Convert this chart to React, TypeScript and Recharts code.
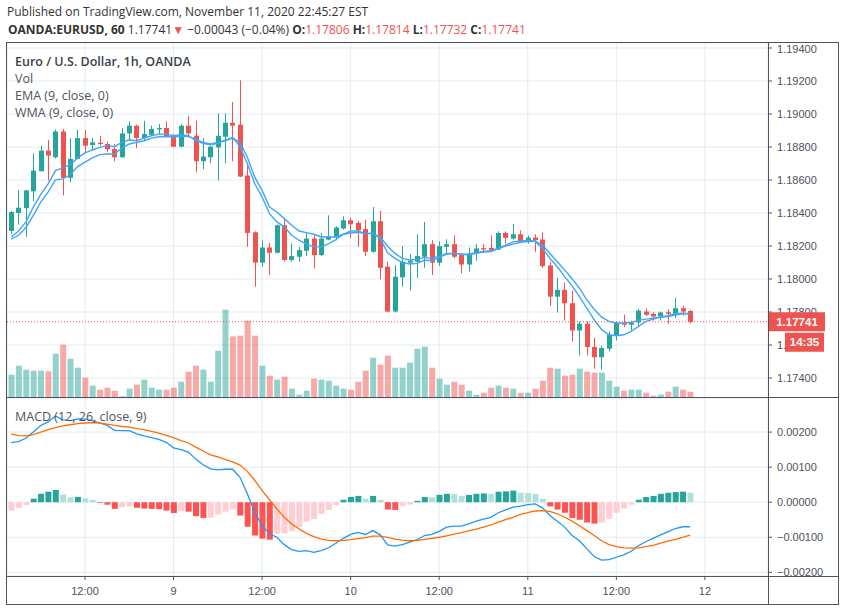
import React from 'react';
import {
  ComposedChart, Bar, Line, XAxis, YAxis, CartesianGrid, ReferenceLine, Cell,
} from 'recharts';

const GREEN = '#26a69a';
const RED = '#ef5350';
const GRID = '#e1ecf2';
const AXIS = '#50535e';
const TEXT = '#4c525e';
const AXIS_FONT = '"Liberation Sans", Arial, sans-serif';
const UI_FONT = '"Open Sans", "Noto Sans", sans-serif';

// EUR/USD 1h bars, Fri 6 Nov 02:00 .. Wed 11 Nov 22:00 EST (bar index 0..92)
const opens = [
  1.18291, 1.18400, 1.18430, 1.18531, 1.18653, 1.18778, 1.18738, 1.18894, 1.18613, 1.18728,
  1.18854, 1.18812, 1.18826, 1.18818, 1.18788, 1.18738, 1.18882, 1.18929, 1.18854, 1.18874,
  1.18907, 1.18915, 1.18868, 1.18802, 1.18929, 1.18868, 1.18714, 1.18738, 1.18798, 1.18862,
  1.18947, 1.18935, 1.18627, 1.18283, 1.18099, 1.18191, 1.18159, 1.18326, 1.18115, 1.18135,
  1.18171, 1.18245, 1.18145, 1.18239, 1.18255, 1.18306, 1.18356, 1.18340, 1.18302, 1.18165,
  1.18350, 1.18074, 1.17803, 1.18010, 1.18099, 1.18105, 1.18135, 1.18211, 1.18099, 1.18195,
  1.18211, 1.18145, 1.18088, 1.18155, 1.18187, 1.18189, 1.18179, 1.18279, 1.18245, 1.18271,
  1.18229, 1.18251, 1.18239, 1.18082, 1.17893, 1.17934, 1.17853, 1.17688, 1.17729, 1.17588,
  1.17526, 1.17578, 1.17656, 1.17733, 1.17723, 1.17737, 1.17803, 1.17789, 1.17773, 1.17799,
  1.17789, 1.17823, 1.17806,
];
const highs = [
  1.18412, 1.18537, 1.18540, 1.18762, 1.18808, 1.18842, 1.18907, 1.18909, 1.18854, 1.18903,
  1.18903, 1.18854, 1.18868, 1.18834, 1.18818, 1.18915, 1.18955, 1.18935, 1.18959, 1.18929,
  1.18939, 1.18955, 1.18878, 1.18939, 1.18989, 1.18959, 1.18854, 1.18805, 1.19003, 1.19003,
  1.19073, 1.19204, 1.18702, 1.18289, 1.18235, 1.18219, 1.18330, 1.18366, 1.18215, 1.18195,
  1.18285, 1.18265, 1.18279, 1.18386, 1.18320, 1.18380, 1.18372, 1.18352, 1.18360, 1.18436,
  1.18412, 1.18105, 1.18084, 1.18199, 1.18151, 1.18271, 1.18346, 1.18235, 1.18229, 1.18241,
  1.18265, 1.18155, 1.18191, 1.18211, 1.18211, 1.18265, 1.18289, 1.18289, 1.18332, 1.18295,
  1.18263, 1.18271, 1.18283, 1.18105, 1.18008, 1.17978, 1.17930, 1.17743, 1.17743, 1.17642,
  1.17596, 1.17682, 1.17743, 1.17783, 1.17747, 1.17819, 1.17821, 1.17797, 1.17803, 1.17817,
  1.17887, 1.17837, 1.17814,
];
const lows = [
  1.18275, 1.18330, 1.18255, 1.18472, 1.18653, 1.18597, 1.18730, 1.18507, 1.18587, 1.18725,
  1.18762, 1.18782, 1.18808, 1.18768, 1.18714, 1.18735, 1.18838, 1.18794, 1.18834, 1.18868,
  1.18878, 1.18858, 1.18798, 1.18798, 1.18858, 1.18647, 1.18665, 1.18702, 1.18597, 1.18702,
  1.18714, 1.18617, 1.18195, 1.17954, 1.18074, 1.18024, 1.18155, 1.18105, 1.18105, 1.18105,
  1.18139, 1.18064, 1.18139, 1.18235, 1.18235, 1.18300, 1.18249, 1.18195, 1.18139, 1.18159,
  1.17998, 1.17797, 1.17797, 1.17954, 1.17930, 1.18008, 1.18068, 1.18024, 1.18080, 1.18155,
  1.18125, 1.18034, 1.18044, 1.18110, 1.18159, 1.18171, 1.18175, 1.18215, 1.18239, 1.18219,
  1.18215, 1.18165, 1.18068, 1.17837, 1.17797, 1.17749, 1.17622, 1.17536, 1.17536, 1.17457,
  1.17451, 1.17562, 1.17628, 1.17709, 1.17688, 1.17709, 1.17773, 1.17747, 1.17749, 1.17729,
  1.17763, 1.17777, 1.17732,
];
const closes = [
  1.18406, 1.18432, 1.18537, 1.18657, 1.18778, 1.18748, 1.18894, 1.18613, 1.18728, 1.18854,
  1.18808, 1.18828, 1.18818, 1.18786, 1.18738, 1.18882, 1.18929, 1.18854, 1.18878, 1.18909,
  1.18915, 1.18862, 1.18802, 1.18929, 1.18882, 1.18714, 1.18742, 1.18802, 1.18868, 1.18947,
  1.18929, 1.18621, 1.18279, 1.18099, 1.18191, 1.18159, 1.18326, 1.18115, 1.18139, 1.18175,
  1.18245, 1.18145, 1.18245, 1.18259, 1.18312, 1.18356, 1.18332, 1.18295, 1.18165, 1.18350,
  1.18068, 1.17803, 1.18014, 1.18105, 1.18110, 1.18139, 1.18211, 1.18099, 1.18199, 1.18211,
  1.18135, 1.18088, 1.18155, 1.18185, 1.18179, 1.18175, 1.18279, 1.18249, 1.18271, 1.18225,
  1.18251, 1.18235, 1.18078, 1.17893, 1.17934, 1.17853, 1.17688, 1.17729, 1.17588, 1.17526,
  1.17582, 1.17662, 1.17733, 1.17723, 1.17737, 1.17809, 1.17783, 1.17773, 1.17797, 1.17789,
  1.17823, 1.17803, 1.17741,
];
const volumes = [
  700, 970, 850, 820, 820, 800, 1330, 1600, 1180, 910,
  610, 370, 250, 310, 220, 50, 280, 400, 550, 310,
  250, 250, 310, 490, 790, 970, 850, 490, 1420, 2650,
  1850, 1870, 2320, 1870, 970, 670, 550, 640, 280, 100,
  220, 580, 550, 520, 370, 280, 250, 490, 820, 1210,
  1000, 1270, 910, 910, 1060, 1480, 1540, 910, 580, 400,
  490, 400, 220, 100, 160, 310, 370, 310, 280, 160,
  160, 280, 520, 910, 880, 670, 700, 880, 790, 760,
  760, 520, 340, 220, 250, 250, 160, 70, 100, 190,
  340, 250, 190,
];
const ema9 = [
  1.18241, 1.18265, 1.18312, 1.18386, 1.18466, 1.18527, 1.18601, 1.18607, 1.18633, 1.18681,
  1.18708, 1.18734, 1.18754, 1.18758, 1.18758, 1.18794, 1.18818, 1.18828, 1.18838, 1.18854,
  1.18862, 1.18864, 1.18862, 1.18864, 1.18866, 1.18846, 1.18828, 1.18818, 1.18828, 1.18838,
  1.18854, 1.18828, 1.18738, 1.18617, 1.18537, 1.18436, 1.18406, 1.18366, 1.18326, 1.18291,
  1.18281, 1.18271, 1.18255, 1.18255, 1.18255, 1.18271, 1.18279, 1.18283, 1.18275, 1.18275,
  1.18255, 1.18199, 1.18155, 1.18125, 1.18115, 1.18119, 1.18131, 1.18125, 1.18139, 1.18155,
  1.18155, 1.18151, 1.18151, 1.18159, 1.18167, 1.18171, 1.18185, 1.18199, 1.18211, 1.18223,
  1.18227, 1.18229, 1.18205, 1.18155, 1.18105, 1.18054, 1.18002, 1.17944, 1.17873, 1.17817,
  1.17769, 1.17743, 1.17733, 1.17733, 1.17737, 1.17749, 1.17757, 1.17763, 1.17769, 1.17773,
  1.17781, 1.17789, 1.17789,
];
const wma9 = [
  1.18255, 1.18291, 1.18346, 1.18436, 1.18513, 1.18577, 1.18657, 1.18673, 1.18693, 1.18734,
  1.18764, 1.18782, 1.18798, 1.18808, 1.18802, 1.18828, 1.18844, 1.18838, 1.18854, 1.18868,
  1.18878, 1.18878, 1.18868, 1.18874, 1.18868, 1.18838, 1.18822, 1.18814, 1.18822, 1.18842,
  1.18858, 1.18802, 1.18698, 1.18577, 1.18497, 1.18396, 1.18346, 1.18316, 1.18265, 1.18235,
  1.18211, 1.18195, 1.18195, 1.18215, 1.18239, 1.18271, 1.18291, 1.18291, 1.18275, 1.18279,
  1.18245, 1.18159, 1.18125, 1.18099, 1.18091, 1.18095, 1.18115, 1.18111, 1.18131, 1.18151,
  1.18155, 1.18151, 1.18145, 1.18155, 1.18163, 1.18167, 1.18185, 1.18205, 1.18225, 1.18231,
  1.18235, 1.18229, 1.18185, 1.18125, 1.18074, 1.18014, 1.17958, 1.17893, 1.17823, 1.17753,
  1.17693, 1.17662, 1.17656, 1.17662, 1.17682, 1.17713, 1.17743, 1.17757, 1.17769, 1.17777,
  1.17789, 1.17793, 1.17789,
];
const macdLine = [
  0.0017, 0.00173, 0.00183, 0.002, 0.00219, 0.00229, 0.00246, 0.00235, 0.00233, 0.00238,
  0.00237, 0.00233, 0.00226, 0.00219, 0.00205, 0.00204, 0.00204, 0.00195, 0.00189, 0.00184,
  0.00179, 0.00171, 0.00155, 0.0015, 0.00143, 0.00123, 0.00107, 0.00095, 0.00092, 0.00094,
  0.00094, 0.00071, 0.00024, -0.00029, -0.00067, -0.0009, -0.001, -0.00121, -0.00135, -0.0014,
  -0.00138, -0.00143, -0.00138, -0.0013, -0.00117, -0.00103, -0.00092, -0.00086, -0.00092, -0.00081,
  -0.00093, -0.00122, -0.00125, -0.00121, -0.00114, -0.00107, -0.00095, -0.00092, -0.00083, -0.00071,
  -0.00068, -0.00068, -0.00062, -0.00054, -0.00048, -0.00043, -0.0003, -0.00022, -0.00014, -0.00011,
  -0.00007, -0.00005, -0.00016, -0.00038, -0.00054, -0.00071, -0.00095, -0.0011, -0.00133, -0.00155,
  -0.00165, -0.00164, -0.00157, -0.0015, -0.0014, -0.00124, -0.00112, -0.00103, -0.00093, -0.00084,
  -0.00075, -0.0007, -0.0007,
];
const signalLine = [
  0.00195, 0.0019, 0.00189, 0.00193, 0.002, 0.00207, 0.00213, 0.00218, 0.00221, 0.00224,
  0.00226, 0.00227, 0.00226, 0.00223, 0.00219, 0.00216, 0.00214, 0.0021, 0.00207, 0.00202,
  0.00197, 0.00191, 0.00184, 0.00176, 0.00169, 0.00157, 0.00146, 0.00135, 0.00129, 0.00122,
  0.00115, 0.00106, 0.00088, 0.00062, 0.00033, 0.00007, -0.00019, -0.00043, -0.00062, -0.00076,
  -0.00089, -0.00098, -0.00105, -0.00109, -0.0011, -0.00109, -0.00107, -0.00104, -0.00101, -0.00097,
  -0.00097, -0.001, -0.00105, -0.00108, -0.0011, -0.00109, -0.00106, -0.00103, -0.001, -0.00096,
  -0.00091, -0.00087, -0.00082, -0.00077, -0.00071, -0.00065, -0.00057, -0.0005, -0.00043, -0.00035,
  -0.0003, -0.00025, -0.00024, -0.00026, -0.00033, -0.00043, -0.00054, -0.00067, -0.00081, -0.00095,
  -0.0011, -0.00121, -0.00127, -0.0013, -0.00131, -0.0013, -0.00127, -0.00123, -0.00117, -0.00111,
  -0.00106, -0.001, -0.00094,
];
const histogram = [
  -0.00024, -0.00016, -0.00008, 0.0001, 0.00024, 0.0003, 0.00035, 0.00022, 0.00014, 0.00015,
  0.00011, 0.00007, -0.00002, -0.00007, -0.00019, -0.00014, -0.00012, -0.00016, -0.00018, -0.00019,
  -0.0002, -0.00024, -0.00031, -0.00026, -0.00027, -0.0004, -0.00045, -0.00044, -0.00035, -0.00027,
  -0.00021, -0.00038, -0.0007, -0.00095, -0.00104, -0.00107, -0.0009, -0.00089, -0.00083, -0.0007,
  -0.00055, -0.00048, -0.00033, -0.00022, -0.00008, 0.00007, 0.00015, 0.00018, 0.0001, 0.00018,
  0.00007, -0.00021, -0.00022, -0.00012, -0.00007, 0.00004, 0.00015, 0.00014, 0.00021, 0.00024,
  0.00023, 0.00018, 0.00021, 0.00024, 0.00025, 0.00024, 0.0003, 0.00031, 0.00033, 0.00027,
  0.00026, 0.00024, 0.0001, -0.00012, -0.00021, -0.0003, -0.00045, -0.0005, -0.00058, -0.00061,
  -0.00058, -0.00047, -0.0003, -0.00018, -0.00007, 0.00007, 0.00015, 0.00018, 0.00024, 0.00027,
  0.00029, 0.0003, 0.00027,
];

const timeTicks = [10, 22, 34, 46, 58, 70, 82, 94];
const timeLabels = ['12:00', '9', '12:00', '10', '12:00', '11', '12:00', '12'];
const priceTicks = [1.174, 1.176, 1.178, 1.18, 1.182, 1.184, 1.186, 1.188, 1.19, 1.192, 1.194];
const macdTicks = [0.002, 0.001, 0, -0.001, -0.002];
const lastPrice = 1.17741;
const countdown = '14:35';

const X_DOMAIN = [-0.57, 102.55];
const PRICE_DOMAIN = [1.172788, 1.194303];
const VOL_DOMAIN = [0, 10650];
const MACD_DOMAIN = [-0.002105, 0.002973];

const rows = opens.map((o, i) => ({
  i,
  open: o,
  high: highs[i],
  low: lows[i],
  close: closes[i],
  vol: volumes[i],
  ema: ema9[i],
  wma: wma9[i],
}));

const macdRows = macdLine.map((m, i) => ({
  i,
  macd: m,
  signal: signalLine[i],
  hist: histogram[i],
}));

const histColor = (i: number) => {
  const v = histogram[i];
  const prev = i > 0 ? histogram[i - 1] : undefined;
  if (v >= 0) return prev !== undefined && v > prev ? GREEN : '#b2dfdb';
  return prev !== undefined && v < prev ? '#ff5252' : '#ffcdd2';
};

const fmtNum = (v: number) => (v < 0 ? '\u2212' + Math.abs(v).toFixed(5) : v.toFixed(5));

const Candle = (props: any) => {
  const { x, y, width, height, payload } = props;
  const top = Math.min(y, y + height);
  const h = Math.abs(height);
  const { open, close, high, low } = payload;
  const color = close >= open ? GREEN : RED;
  const range = high - low || 1e-9;
  const yOf = (v: number) => top + ((high - v) / range) * h;
  const cx = Math.round(x + width / 2) + 0.5;
  const bTop = yOf(Math.max(open, close));
  const bBot = yOf(Math.min(open, close));
  return (
    <g>
      <line x1={cx} x2={cx} y1={top} y2={top + h} stroke={color} strokeWidth={1} />
      <rect x={cx - width / 2} y={bTop} width={width} height={Math.max(1, bBot - bTop)} fill={color} />
    </g>
  );
};

const PriceTag = (props: any) => {
  const { viewBox } = props;
  const x = viewBox.x + viewBox.width;
  const y = viewBox.y;
  return (
    <g>
      <rect x={x} y={y - 9.5} width={57} height={19} fill={RED} />
      <text x={x + 29} y={y + 4} textAnchor="middle" fill="#fff" fontSize={11.5} fontWeight="bold" fontFamily={AXIS_FONT}>
        {lastPrice.toFixed(5)}
      </text>
      <rect x={x + 17} y={y + 11} width={39} height={19} fill={RED} />
      <text x={x + 36.5} y={y + 24.5} textAnchor="middle" fill="#fff" fontSize={11.5} fontWeight="bold" fontFamily={AXIS_FONT}>
        {countdown}
      </text>
    </g>
  );
};

const axisTick = { fill: TEXT, fontSize: 11, fontFamily: AXIS_FONT };

const line = (left: number, top: number, width: number, height: number): React.CSSProperties => ({
  position: 'absolute', left, top, width, height, background: AXIS,
});

const legendStyle = (top: number, bold?: boolean): React.CSSProperties => ({
  position: 'absolute', left: 15, top, fontFamily: UI_FONT, fontSize: 12.5,
  color: bold ? '#3a3e47' : '#50535e', fontWeight: bold ? 600 : 400, whiteSpace: 'nowrap', lineHeight: '16px',
});

export default function App() {
  return (
    <div style={{ position: 'absolute', left: 0, top: 0, width: 845, height: 612, background: '#fff', overflow: 'hidden' }}>
      <div style={{ position: 'absolute', left: 7, top: 3, fontFamily: UI_FONT, fontSize: 12, color: '#333', whiteSpace: 'nowrap' }}>
        Published on TradingView.com, November 11, 2020 22:45:27 EST
      </div>
      <div style={{ position: 'absolute', left: 8, top: 21, fontFamily: UI_FONT, fontSize: 12, color: '#333', whiteSpace: 'nowrap' }}>
        <b>OANDA:EURUSD, 60</b> 1.17741<span style={{ color: RED }}>▼</span> −0.00043 (−0.04%) <b>O:</b>
        <span style={{ color: RED }}>1.17806</span> <b>H:</b><span style={{ color: RED }}>1.17814</span> <b>L:</b>
        <span style={{ color: RED }}>1.17732</span> <b>C:</b><span style={{ color: RED }}>1.17741</span>
      </div>

      <div style={{ position: 'absolute', left: 7, top: 43 }}>
        <ComposedChart width={831} height={355} data={rows} margin={{ top: 0, right: 0, bottom: 0, left: 0 }}>
          <CartesianGrid stroke={GRID} strokeWidth={1} />
          <XAxis dataKey="i" type="number" domain={X_DOMAIN} ticks={timeTicks} allowDataOverflow hide />
          <XAxis xAxisId="v" dataKey="i" type="number" domain={X_DOMAIN} allowDataOverflow hide />
          <YAxis
            orientation="right" width={70} domain={PRICE_DOMAIN} ticks={priceTicks} allowDataOverflow
            tickFormatter={fmtNum} tick={axisTick} axisLine={false} tickLine={{ stroke: AXIS }} tickSize={4} tickMargin={5}
          />
          <YAxis yAxisId="v" domain={VOL_DOMAIN} hide />
          <Bar xAxisId="v" yAxisId="v" dataKey="vol" barSize={6} isAnimationActive={false}>
            {rows.map((r) => (
              <Cell key={r.i} fill={r.close >= r.open ? GREEN : RED} fillOpacity={0.5} />
            ))}
          </Bar>
          <Bar dataKey={(d: any) => [d.low, d.high]} barSize={5} shape={Candle} isAnimationActive={false} />
          <Line dataKey="ema" stroke="#42a5f5" strokeWidth={1.4} dot={false} isAnimationActive={false} />
          <Line dataKey="wma" stroke="#42a5f5" strokeWidth={1.4} dot={false} isAnimationActive={false} />
        </ComposedChart>
      </div>

      {/* last-price line and axis tags, on top of the price axis labels */}
      <div style={{ position: 'absolute', left: 7, top: 43 }}>
        <ComposedChart width={831} height={355} data={rows} margin={{ top: 0, right: 70, bottom: 0, left: 0 }}>
          <XAxis dataKey="i" type="number" domain={X_DOMAIN} allowDataOverflow hide />
          <YAxis domain={PRICE_DOMAIN} allowDataOverflow hide />
          <Line dataKey="close" stroke="none" dot={false} activeDot={false} isAnimationActive={false} />
          <ReferenceLine y={lastPrice} stroke={RED} strokeDasharray="1 2" label={<PriceTag />} />
        </ComposedChart>
      </div>

      <div style={{ position: 'absolute', left: 7, top: 398 }}>
        <ComposedChart width={831} height={206} data={macdRows} margin={{ top: 0, right: 0, bottom: 0, left: 0 }}>
          <CartesianGrid stroke={GRID} strokeWidth={1} />
          <XAxis
            dataKey="i" type="number" domain={X_DOMAIN} ticks={timeTicks} allowDataOverflow height={28}
            tickFormatter={(v: number) => timeLabels[timeTicks.indexOf(v)]} tick={axisTick}
            axisLine={false} tickLine={{ stroke: AXIS }} tickSize={4} tickMargin={7} interval={0}
          />
          <YAxis
            orientation="right" width={70} domain={MACD_DOMAIN} ticks={macdTicks} allowDataOverflow
            tickFormatter={fmtNum} tick={axisTick} axisLine={false} tickLine={{ stroke: AXIS }} tickSize={4} tickMargin={5}
            interval={0}
          />
          <Bar dataKey="hist" barSize={6} isAnimationActive={false}>
            {macdRows.map((r) => (
              <Cell key={r.i} fill={histColor(r.i)} />
            ))}
          </Bar>
          <Line dataKey="macd" stroke="#2196f3" strokeWidth={1.3} dot={false} isAnimationActive={false} />
          <Line dataKey="signal" stroke="#ff6d00" strokeWidth={1.3} dot={false} isAnimationActive={false} />
        </ComposedChart>
      </div>

      <div style={legendStyle(54, true)}>Euro / U.S. Dollar, 1h, OANDA</div>
      <div style={legendStyle(71)}>Vol</div>
      <div style={legendStyle(88)}>EMA (9, close, 0)</div>
      <div style={legendStyle(105)}>WMA (9, close, 0)</div>
      <div style={legendStyle(409)}>MACD (12, 26, close, 9)</div>

      <div style={line(6, 42, 833, 1)} />
      <div style={line(6, 604, 833, 1)} />
      <div style={line(6, 42, 1, 563)} />
      <div style={line(838, 42, 1, 563)} />
      <div style={line(768, 42, 1, 563)} />
      <div style={line(6, 397, 833, 1)} />
      <div style={line(6, 576, 833, 1)} />
    </div>
  );
}
